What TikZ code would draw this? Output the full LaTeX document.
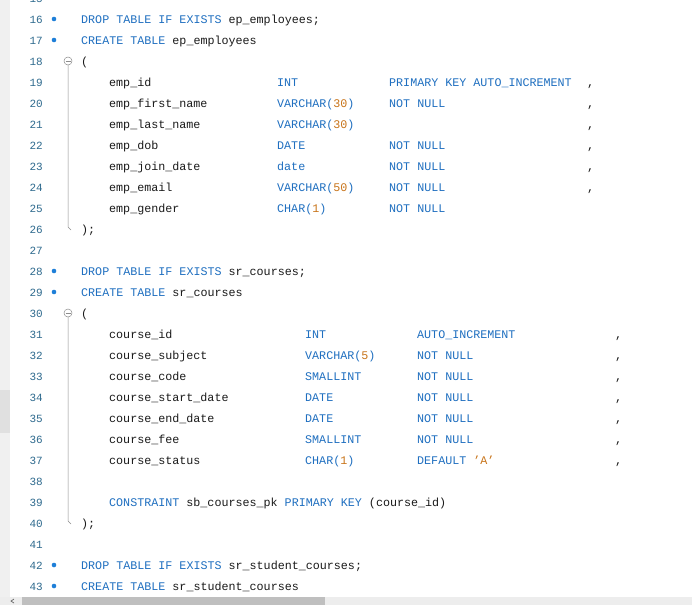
\documentclass[tikz,border=0pt]{standalone}
\usepackage{fontspec}
\setmainfont{Liberation Mono}[Ligatures=ResetAll]
\definecolor{kw}{HTML}{1F6FC0}
\definecolor{num}{HTML}{C8741A}
\definecolor{ln}{HTML}{2E6A8E}
\definecolor{dot}{HTML}{1E7FD8}
\definecolor{txt}{HTML}{1A1A1A}
\newcommand{\K}[1]{\textcolor{kw}{#1}}
\newcommand{\N}[1]{\textcolor{num}{#1}}
\newcommand{\CM}{,}
\newcommand{\Y}[1]{23+(#1-16)*21}
\begin{document}
\begin{tikzpicture}[x=1pt,y=-1pt,
  t/.style={anchor=base west,inner sep=0pt,font=\fontsize{11.7}{12}\selectfont,text=txt},
  n/.style={anchor=base east,inner sep=0pt,font=\fontsize{11}{12}\selectfont,text=ln},
  bp/.style={fill=dot,draw=none}]
\useasboundingbox (0,0) rectangle (692,605);
\fill[white] (0,0) rectangle (692,605);
\fill[black!6] (0,0) rectangle (10,597);
\fill[black!12] (0,390) rectangle (10,433);
\foreach \i in {15,...,43}{
  \pgfmathsetmacro\yy{23+(\i-16)*21}
  \node[n] (ln\i) at (43,\yy) {\i};
}
\foreach \i in {16,17,28,29,42,43}{
  \pgfmathsetmacro\yy{19+(\i-16)*21}
  \fill[bp] (54,\yy) circle (2.3);
}
\foreach \a/\b in {18/26,30/40}{
  \pgfmathsetmacro\ya{19+(\a-16)*21}
  \pgfmathsetmacro\yb{19+(\b-16)*21}
  \draw[black!45,line width=0.5pt] (68,\ya) circle (4);
  \draw[black!45,line width=0.5pt] (65.5,\ya) -- (70.5,\ya);
  \draw[black!45,line width=0.5pt] (68,\ya+4) -- (68,\yb-2) -- (71,\yb+1);
}
\node[t] (c16) at (81,23) {\K{DROP TABLE IF EXISTS} ep\_employees;};
\node[t] (c17) at (81,44) {\K{CREATE TABLE} ep\_employees};
\node[t] (c18) at (81,65) {(};
\foreach \i/\a/\b/\c/\d in {19/emp\_id/\K{INT}/\K{PRIMARY KEY AUTO\_INCREMENT}/\CM,
 20/emp\_first\_name/\K{VARCHAR(}\N{30}\K{)}/\K{NOT NULL}/\CM,
 21/emp\_last\_name/\K{VARCHAR(}\N{30}\K{)}/{}/\CM,
 22/emp\_dob/\K{DATE}/\K{NOT NULL}/\CM,
 23/emp\_join\_date/\K{date}/\K{NOT NULL}/\CM,
 24/emp\_email/\K{VARCHAR(}\N{50}\K{)}/\K{NOT NULL}/\CM,
 25/emp\_gender/\K{CHAR(}\N{1}\K{)}/\K{NOT NULL}/{}}{
  \pgfmathsetmacro\yy{23+(\i-16)*21}
  \node[t] (a\i) at (109,\yy) {\a};
  \node[t] (b\i) at (277,\yy) {\b};
  \node[t] (d\i) at (389,\yy) {\c};
  \node[t] (e\i) at (587,\yy) {\d};
}
\node[t] (c26) at (81,{\Y{26}}) {);};
\node[t] (c28) at (81,{\Y{28}}) {\K{DROP TABLE IF EXISTS} sr\_courses;};
\node[t] (c29) at (81,{\Y{29}}) {\K{CREATE TABLE} sr\_courses};
\node[t] (c30) at (81,{\Y{30}}) {(};
\foreach \i/\a/\b/\c/\d in {31/course\_id/\K{INT}/\K{AUTO\_INCREMENT}/\CM,
 32/course\_subject/\K{VARCHAR(}\N{5}\K{)}/\K{NOT NULL}/\CM,
 33/course\_code/\K{SMALLINT}/\K{NOT NULL}/\CM,
 34/course\_start\_date/\K{DATE}/\K{NOT NULL}/\CM,
 35/course\_end\_date/\K{DATE}/\K{NOT NULL}/\CM,
 36/course\_fee/\K{SMALLINT}/\K{NOT NULL}/\CM,
 37/course\_status/\K{CHAR(}\N{1}\K{)}/\K{DEFAULT} \N{\char39 A\char39}/\CM}{
  \pgfmathsetmacro\yy{23+(\i-16)*21}
  \node[t] (a\i) at (109,\yy) {\a};
  \node[t] (b\i) at (305,\yy) {\b};
  \node[t] (d\i) at (417,\yy) {\c};
  \node[t] (e\i) at (615,\yy) {\d};
}
\node[t] (c39) at (109,{\Y{39}}) {\K{CONSTRAINT} sb\_courses\_pk \K{PRIMARY KEY} (course\_id)};
\node[t] (c40) at (81,{\Y{40}}) {);};
\node[t] (c42) at (81,{\Y{42}}) {\K{DROP TABLE IF EXISTS} sr\_student\_courses;};
\node[t] (c43) at (81,{\Y{43}}) {\K{CREATE TABLE} sr\_student\_courses};
\fill[black!7] (0,597) rectangle (692,605);
\fill[black!25] (22,597) rectangle (325,605);
\draw[black!60,line width=0.7pt] (14,599) -- (11,601) -- (14,603);
\end{tikzpicture}
\end{document}
